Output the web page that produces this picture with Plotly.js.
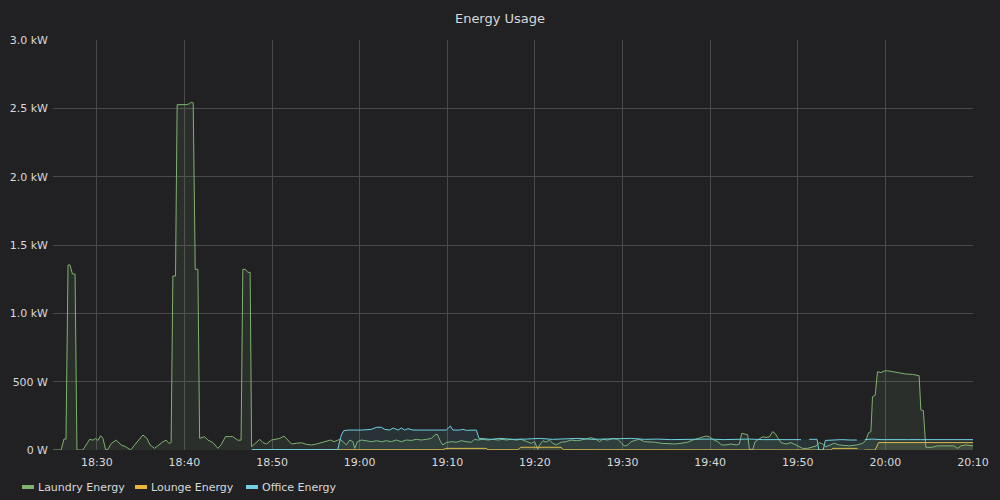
<!DOCTYPE html>
<html>
<head>
<meta charset="utf-8">
<script src="https://cdn.plot.ly/plotly-3.0.1.min.js"></script>
<style>html,body{margin:0;padding:0;background:#212124;}#chart{width:1000px;height:500px;}</style>
</head>
<body>
<div id="chart"></div>
<script>
// Times are minutes after 18:00 on the day shown
const day = '2017-01-01';
const seriesNames = ['Laundry Energy', 'Lounge Energy', 'Office Energy'];
const seriesColors = ['#7eb26d', '#eab839', '#6ed0e0'];

const laundryMin = [25.0,25.91,26.08,26.25,26.48,26.71,26.94,27.22,27.51,27.74,28.42,28.80,29.18,29.56,29.87,30.13,30.44,30.70,31.01,31.27,31.65,32.22,32.79,33.29,33.86,34.32,34.81,35.26,35.72,36.09,36.60,37.09,37.54,37.92,38.23,38.49,38.68,38.99,39.17,40.17,40.54,40.77,41.00,41.23,41.53,41.73,42.30,42.67,43.24,43.81,44.19,44.69,45.52,46.09,46.47,46.66,46.97,47.23,47.50,47.66,48.23,48.60,48.98,49.37,49.94,50.51,50.88,51.37,51.76,52.22,52.79,53.36,53.93,54.50,55.07,55.64,56.21,56.70,57.08,57.46,57.73,58.10,58.49,58.87,59.24,59.44,59.74,60.20,60.77,61.34,61.91,62.48,63.05,63.62,64.19,64.76,65.33,65.90,66.47,67.04,67.61,68.18,68.56,68.87,69.24,69.50,69.89,70.46,71.03,71.60,72.17,72.74,73.12,73.50,74.07,74.64,75.21,75.78,76.35,76.73,77.30,77.87,78.44,78.82,79.20,79.58,79.96,80.33,80.53,80.91,81.29,81.67,82.05,82.43,83.00,83.57,84.14,84.71,85.28,85.66,86.04,86.42,86.99,87.37,87.75,88.32,88.89,89.46,89.85,90.22,90.60,90.99,91.56,91.93,92.50,92.88,93.64,94.41,95.16,95.93,96.69,97.44,98.01,98.58,99.15,99.54,99.92,100.30,100.86,101.32,101.82,102.39,102.96,103.34,103.60,103.91,104.28,104.48,104.86,105.13,105.62,106.00,106.39,106.77,107.13,107.40,107.70,108.09,108.66,109.23,109.80,110.18,110.55,111.12,111.70,112.08,112.46,112.84,113.22,113.79,114.17,114.74,115.88,116.79,117.40,117.78,118.08,118.35,118.53,118.83,119.10,119.48,119.86,120.23,120.80,121.58,122.33,123.08,123.85,124.05,124.34,124.61,125.37,125.94,126.70,127.27,127.84,128.22,128.61,129.18,129.75,130.0];
const laundryW = [0,0,37,80,80,1354,1354,1288,1288,0,0,44,78,72,85,70,105,85,0,5,48,72,37,24,0,37,78,110,85,37,12,37,60,72,48,55,1273,1273,2527,2527,2532,2544,2540,1322,1322,85,98,73,55,12,37,98,98,72,72,1322,1322,1300,1300,24,61,78,53,44,73,78,85,102,73,44,49,53,41,37,44,53,61,73,61,73,78,61,37,73,61,12,61,73,68,61,68,61,68,61,73,61,73,70,78,73,78,85,110,115,61,37,55,61,57,68,61,57,78,73,78,73,78,73,78,73,78,73,78,68,61,49,61,5,37,68,57,73,49,37,57,61,73,68,73,78,85,90,78,61,78,73,85,78,54,29,37,61,73,78,61,61,57,49,44,44,49,57,73,85,97,102,97,78,61,37,37,44,37,44,122,117,112,5,5,61,78,97,92,97,134,122,92,54,44,54,37,24,12,12,24,29,54,44,24,37,49,37,30,37,49,70,127,134,390,400,573,566,578,580,573,561,556,553,544,293,288,20,20,30,30,25,30,12,30,37,30,30];

const loungeMin = [54.65,69.50,69.81,74.45,74.65,78.06,78.36,83.00,83.25,98.01,98.20,110.37,110.55,113.79,114.00,116.81,117.0,117.60,118.84,119.22,124.0,130.0];
const loungeW = [2,2,12,12,2,2,20,20,2,2,5,5,0,0,12,12,null,0,0,54,55,54];

const officeMin = [47.69,55.0,57.50,57.67,57.92,58.18,58.67,60.20,61.34,61.91,62.48,62.86,63.43,63.81,64.38,64.76,65.14,65.52,66.08,67.79,69.89,70.35,70.65,71.41,71.79,72.17,73.31,73.61,74.26,75.0,76.0,77.5,79.0,80.5,82.0,83.5,85.0,86.5,88.0,89.5,91.0,92.5,94.0,95.5,97.0,98.5,100.0,101.5,103.0,104.5,106.0,107.5,109.0,110.37,110.6,111.30,112.20,112.40,112.90,113.15,114.0,115.0,116.0,116.75,117.0,117.65,118.5,119.5,121.0,122.5,124.0,126.0,128.0,130.0];
const officeW = [3,3,3,50,110,141,146,146,151,166,166,151,146,161,146,161,146,156,146,146,146,175,146,146,151,144,146,85,80,78,85,78,80,85,78,80,85,78,80,78,85,78,80,76,78,76,80,76,78,80,76,78,76,76,null,78,78,0,0,70,73,76,73,73,null,76,80,76,78,76,76,76,76,76];

const yTickVals = [0, 500, 1000, 1500, 2000, 2500, 3000];
const yTickText = ['0 W', '500 W', '1.0 kW', '1.5 kW', '2.0 kW', '2.5 kW', '3.0 kW'];
const xTickTimes = ['18:30','18:40','18:50','19:00','19:10','19:20','19:30','19:40','19:50','20:00','20:10'];
const xRange = ['18:25', '20:10'];

function toTime(m) {
  const totalSec = Math.round(m * 60);
  const h = 18 + Math.floor(totalSec / 3600);
  const mm = Math.floor((totalSec % 3600) / 60);
  const ss = totalSec % 60;
  const p = n => String(n).padStart(2, '0');
  return day + ' ' + p(h) + ':' + p(mm) + ':' + p(ss);
}
function hexA(hex, a) {
  const r = parseInt(hex.slice(1,3),16), g = parseInt(hex.slice(3,5),16), b = parseInt(hex.slice(5,7),16);
  return 'rgba(' + r + ',' + g + ',' + b + ',' + a + ')';
}

const allMin = [laundryMin, loungeMin, officeMin];
const allW = [laundryW, loungeW, officeW];
const traces = seriesNames.map((name, i) => ({
  type: 'scatter',
  mode: 'lines',
  name: name,
  x: allMin[i].map(toTime),
  y: allW[i],
  line: {color: seriesColors[i], width: 1},
  fill: 'tozeroy',
  fillcolor: hexA(seriesColors[i], 0.1),
  connectgaps: false,
  showlegend: false,
  hoverinfo: 'skip'
}));

// custom Grafana-like legend
const plotL = 53, plotR = 973, plotT = 40, plotB = 450;
const pw = plotR - plotL, ph = plotB - plotT;
const legendItems = [{sx: 22, tx: 36}, {sx: 135, tx: 149}, {sx: 246, tx: 260}];
const legendY = 487;
const shapes = [];
const annotations = [];
legendItems.forEach((it, i) => {
  shapes.push({
    type: 'rect', xref: 'paper', yref: 'paper',
    x0: (it.sx - plotL) / pw, x1: (it.sx + 12 - plotL) / pw,
    y0: (plotB - (legendY - 2)) / ph, y1: (plotB - (legendY + 2)) / ph,
    fillcolor: seriesColors[i], line: {width: 0}
  });
  annotations.push({
    xref: 'paper', yref: 'paper',
    x: (it.tx - plotL) / pw, y: (plotB - legendY) / ph,
    xanchor: 'left', yanchor: 'middle', showarrow: false,
    text: seriesNames[i],
    font: {family: 'DejaVu Sans', size: 11, color: '#d8d9da'}
  });
});

const layout = {
  width: 1000, height: 500,
  paper_bgcolor: '#212124', plot_bgcolor: '#212124',
  margin: {l: plotL, r: 1000 - plotR, t: plotT, b: 500 - plotB},
  font: {family: 'DejaVu Sans', size: 11, color: '#d8d9da'},
  title: {text: 'Energy Usage', x: 0.5, xanchor: 'center', y: 0.964, yanchor: 'middle',
          font: {family: 'DejaVu Sans', size: 13, color: '#d8d9da'}},
  xaxis: {
    type: 'date',
    range: [day + ' ' + xRange[0], day + ' ' + xRange[1]],
    tickvals: xTickTimes.map(t => day + ' ' + t),
    ticktext: xTickTimes,
    showgrid: true, gridcolor: '#4a4a4c', gridwidth: 1,
    zeroline: false, showline: false, ticks: '',
    ticklabelstandoff: 4,
    tickfont: {family: 'DejaVu Sans', size: 11, color: '#d8d9da'}
  },
  yaxis: {
    range: [0, 3000],
    tickvals: yTickVals, ticktext: yTickText,
    showgrid: true, gridcolor: '#4a4a4c', gridwidth: 1,
    zeroline: false, showline: false, ticks: '',
    ticklabelstandoff: 4,
    tickfont: {family: 'DejaVu Sans', size: 11, color: '#d8d9da'}
  },
  showlegend: false,
  shapes: shapes,
  annotations: annotations
};

Plotly.newPlot('chart', traces, layout, {staticPlot: true, displayModeBar: false});
</script>
</body>
</html>
